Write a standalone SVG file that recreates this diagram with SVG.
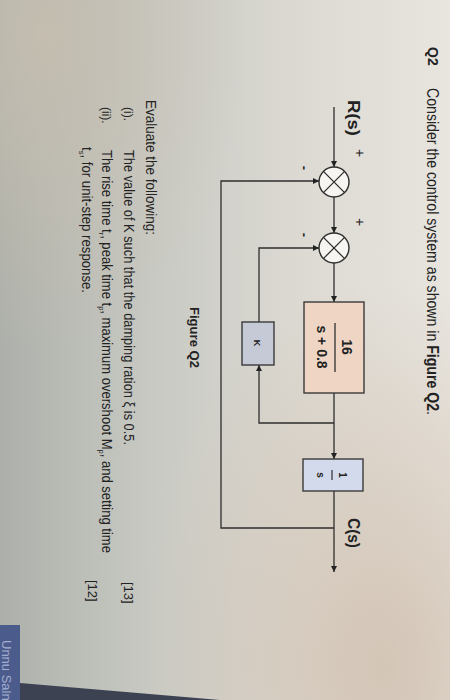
<svg xmlns="http://www.w3.org/2000/svg" width="450" height="700" viewBox="0 0 450 700">
  <defs>
    <linearGradient id="bgH" x1="0" y1="0" x2="1" y2="0">
      <stop offset="0" stop-color="#adb0aa"/>
      <stop offset="0.35" stop-color="#c9cac4"/>
      <stop offset="0.7" stop-color="#dedbd4"/>
      <stop offset="1" stop-color="#e8e5df"/>
    </linearGradient>
    <radialGradient id="warm" cx="0.85" cy="0.95" r="0.55">
      <stop offset="0" stop-color="#d2c2b2" stop-opacity="0.9"/>
      <stop offset="1" stop-color="#d2c2b2" stop-opacity="0"/>
    </radialGradient>
    <radialGradient id="topWarm" cx="0.1" cy="0.05" r="0.45">
      <stop offset="0" stop-color="#c8bfb0" stop-opacity="0.8"/>
      <stop offset="1" stop-color="#c8bfb0" stop-opacity="0"/>
    </radialGradient>
    <marker id="arr" viewBox="0 0 10 10" refX="10" refY="5" markerWidth="6" markerHeight="6" markerUnits="userSpaceOnUse" orient="auto">
      <path d="M0,0 L10,5 L0,10 Z" fill="#222"/>
    </marker>
    <style>
      .ln { stroke:#2e2e2e; stroke-width:1.3; fill:none; }
      .arr { marker-end:url(#arr); }
      .box { stroke:#3a3a3a; stroke-width:1.4; }
      .sum { fill:#f6f5f1; stroke:#2e2e2e; stroke-width:1.4; }
      .t { font-family:"Liberation Sans", Arial, sans-serif; fill:#222; }
      .b { font-weight:bold; }
    </style>
  </defs>

  <!-- background photo tones -->
  <rect x="0" y="0" width="450" height="700" fill="url(#bgH)"/>
  <rect x="0" y="0" width="450" height="700" fill="url(#warm)"/>
  <rect x="0" y="0" width="450" height="700" fill="url(#topWarm)"/>
  <rect x="0" y="625" width="20" height="75" fill="#4b5b8c"/>
  <text class="t" transform="translate(2,640) rotate(90)" font-size="13" style="fill:#a3aed0">Unnu Saln</text>
  <polygon points="20,683 220,700 20,700" fill="#3d4252"/>

  <g transform="translate(450,0) rotate(90)">
    <!-- header -->
    <g id="header">
      <text class="t b" x="47" y="22" font-size="14">Q2</text>
      <text class="t" x="88" y="23" font-size="16" textLength="327" lengthAdjust="spacingAndGlyphs">Consider the control system as shown in <tspan class="b">Figure Q2</tspan>.</text>
    </g>

    <!-- connectors -->
    <g id="connectors">
      <line class="ln arr" x1="107" y1="116" x2="167" y2="116"/>
      <line class="ln arr" x1="197" y1="116" x2="233" y2="116"/>
      <line class="ln arr" x1="263" y1="116" x2="302" y2="116"/>
      <line class="ln arr" x1="393" y1="116" x2="459" y2="116"/>
      <line class="ln arr" x1="491" y1="116" x2="572" y2="116"/>
      <polyline class="ln arr" points="423,116 423,191 365,191"/>
      <polyline class="ln arr" points="322,191 248,191 248,131"/>
      <polyline class="ln arr" points="528,116 528,229 181,229 181,131"/>
    </g>

    <!-- labels -->
    <g id="signals">
      <text class="t b" x="100" y="102" font-size="16" textLength="36" lengthAdjust="spacingAndGlyphs">R(s)</text>
      <text class="t b" x="518" y="102" font-size="16" textLength="30" lengthAdjust="spacingAndGlyphs">C(s)</text>
      <text class="t" x="153" y="95" font-size="14" text-anchor="middle">+</text>
      <text class="t" x="222" y="95" font-size="14" text-anchor="middle">+</text>
      <text class="t b" x="168" y="150" font-size="13" text-anchor="middle">-</text>
      <text class="t b" x="235" y="150" font-size="13" text-anchor="middle">-</text>
    </g>

    <g id="sum1">
      <circle class="sum" cx="182" cy="116" r="15"/>
      <path class="ln" d="M171.4,105.4 L192.6,126.6 M171.4,126.6 L192.6,105.4" stroke-width="1.4"/>
    </g>
    <g id="sum2">
      <circle class="sum" cx="248" cy="116" r="15"/>
      <path class="ln" d="M237.4,105.4 L258.6,126.6 M237.4,126.6 L258.6,105.4" stroke-width="1.4"/>
    </g>

    <g id="G">
      <rect class="box" x="302" y="86" width="91" height="60" fill="#efd6c4"/>
      <text class="t b" x="347" y="108" font-size="14" text-anchor="middle">16</text>
      <line x1="323" y1="115" x2="372" y2="115" stroke="#2e2e2e" stroke-width="1.3"/>
      <text class="t b" x="347" y="133" font-size="14" text-anchor="middle">s + 0.8</text>
    </g>

    <g id="integrator">
      <rect class="box" x="459" y="87" width="32" height="60" fill="#d3daec"/>
      <text class="t b" x="475" y="111" font-size="10" text-anchor="middle">1</text>
      <line x1="470" y1="118" x2="480" y2="118" stroke="#2e2e2e" stroke-width="1.2"/>
      <text class="t b" x="475" y="133" font-size="10" text-anchor="middle">s</text>
    </g>

    <g id="K">
      <rect class="box" x="322" y="176" width="43" height="32" fill="#c6c9d6"/>
      <text class="t b" x="343" y="196" font-size="9" text-anchor="middle">K</text>
    </g>

    <g id="caption">
      <text class="t b" x="307" y="260" font-size="13" textLength="61" lengthAdjust="spacingAndGlyphs">Figure Q2</text>
    </g>

    <g id="questions">
      <text class="t" x="100" y="304" font-size="14" textLength="135" lengthAdjust="spacingAndGlyphs">Evaluate the following:</text>
      <text class="t" x="107" y="326" font-size="12">(i).</text>
      <text class="t" x="150" y="326" font-size="14" textLength="295" lengthAdjust="spacingAndGlyphs">The value of K such that the damping ration ξ is 0.5.</text>
      <text class="t" x="107" y="348" font-size="12">(ii).</text>
      <text class="t" x="150" y="348" font-size="14" textLength="403" lengthAdjust="spacingAndGlyphs">The rise time t<tspan font-size="8" dy="3">r</tspan><tspan dy="-3">, peak time t</tspan><tspan font-size="8" dy="3">p</tspan><tspan dy="-3">, maximum overshoot M</tspan><tspan font-size="8" dy="3">p</tspan><tspan dy="-3">, and setting time</tspan></text>
      <text class="t" x="147" y="368" font-size="14" textLength="146" lengthAdjust="spacingAndGlyphs">t<tspan font-size="8" dy="3">s</tspan><tspan dy="-3">, for unit-step response.</tspan></text>
      <text class="t" x="582" y="326" font-size="13">[13]</text>
      <text class="t" x="580" y="362" font-size="13">[12]</text>
    </g>
  </g>
</svg>
